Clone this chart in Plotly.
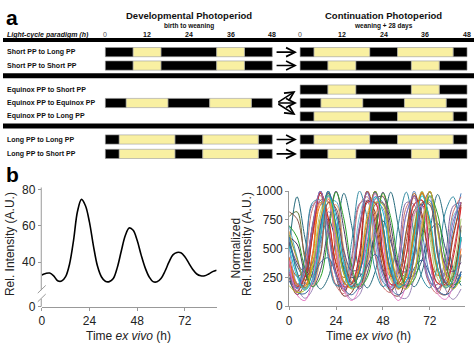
import plotly.graph_objects as go

W, H = 474, 351
FONT = "Liberation Sans, Arial, sans-serif"

# ---------------- Panel a data ----------------
row_labels = ["Short PP to Long PP", "Short PP to Short PP", "Equinox PP to Short PP",
              "Equinox PP to Equinox PP", "Equinox PP to Long PP",
              "Long PP to Long PP", "Long PP to Short PP"]
# alternating segment durations (h) starting with dark: dark, light, dark, light, dark
short_pp_hours = [8, 8, 16, 8, 8]
equinox_pp_hours = [6, 12, 12, 12, 6]
long_pp_hours = [4, 16, 8, 16, 4]
dev_paradigm = ["short", "short", None, "equinox", None, "long", "long"]
cont_paradigm = ["long", "short", "short", "equinox", "long", "long", "short"]
hour_ticks = [0, 12, 24, 36, 48]

# ---------------- Panel b data ----------------
t_single = [0, 2, 4, 6, 8, 10, 12, 14, 16, 18, 20, 22, 24, 26, 28, 30, 32, 34, 36, 38, 40, 42,
            44, 46, 48, 50, 52, 54, 56, 58, 60, 62, 64, 66, 68, 70, 72, 74, 76, 78, 80, 82, 84, 86, 88]
single_intensity = [33, 33.8, 34, 32.5, 29.8, 29.6, 32, 39, 52, 68, 74.5, 71, 62, 49, 38, 32, 29.5,
                    29.3, 31, 37, 46, 54.5, 58.8, 57.5, 52, 44, 37, 32, 29.3, 29.2, 31, 35, 40, 44,
                    45.3, 45.2, 43, 39.5, 36, 33.5, 32.5, 32.5, 33.5, 34.8, 35.6]

t_norm = [0, 4, 8, 12, 16, 20, 24, 28, 32, 36, 40, 44, 48, 52, 56, 60, 64, 68, 72, 76, 80, 84, 88]
tr01 = [320,150,310,690,1000,670,290,150,300,680,1000,660,300,140,290,660,1000,650,280,150,300,680,980]
tr02 = [430,190,210,460,920,910,440,200,190,440,910,900,460,190,200,450,890,920,430,200,210,470,880]
tr03 = [650,290,150,290,680,1000,690,310,160,300,670,1000,680,290,170,310,690,1000,660,300,170,300,660]
tr04 = [220,180,430,880,900,460,190,180,430,890,910,440,210,170,440,900,880,470,200,190,430,870,900]
tr05 = [700,430,200,190,440,900,910,460,210,190,450,900,890,440,200,180,430,880,900,450,210,200,440]
tr06 = [400,200,180,450,900,900,450,200,160,300,680,1000,680,300,160,200,450,900,900,450,200,180,300]
tr07 = [550,350,260,330,560,760,560,340,250,260,380,620,740,560,330,250,270,400,650,720,500,300,260]
tr08 = [250,100,200,620,1000,650,260,90,120,380,920,820,400,120,90,300,830,880,420,130,100,250,700]
tr09 = [780,820,420,250,620,980,700,320,200,300,680,1000,700,320,190,280,650,980,720,330,200,270,600]
tr10 = [600,540,290,170,310,690,1000,670,300,150,290,660,990,700,320,170,280,640,1000,700,310,160,300]
tr11 = [500,950,600,280,150,250,600,980,700,300,160,300,650,990,680,300,170,300,650,970,700,320,180]
tr12 = [400,260,320,700,980,760,380,250,300,680,1000,780,400,260,290,650,980,760,420,270,300,620,900]
tr13 = [350,200,150,220,520,820,720,380,180,200,500,950,900,450,200,190,420,880,880,460,220,180,300]
tr14 = [300,120,350,850,960,500,180,110,380,880,950,480,170,120,360,860,940,520,190,110,330,820,950]
tr15 = [380,180,170,380,820,970,560,220,160,350,800,980,580,230,150,340,780,990,600,240,160,330,760]
tr16 = [500,180,70,150,600,1000,600,180,60,100,380,900,850,380,90,70,250,750,950,500,150,60,150]
tr17 = [330,160,280,720,1000,640,260,150,320,780,980,560,220,140,350,800,960,540,220,150,330,780,880]
tr18 = [650,400,220,180,420,850,880,500,230,170,350,780,960,620,260,160,300,720,1000,700,300,170,260]
tr19 = [220,120,110,200,380,420,280,150,100,180,350,450,300,150,100,160,330,400,280,140,100,150,300]
tr20 = [280,130,260,700,980,690,300,130,280,650,990,720,330,140,230,560,960,800,380,150,240,600,900]
tr21 = [620,420,230,330,760,990,650,280,170,300,700,1000,700,300,180,280,640,980,740,330,180,260,580]
tr22 = [560,380,300,380,700,980,820,480,310,330,560,930,950,600,330,300,470,860,990,680,360,300,380]
tr23 = [250,160,420,900,920,420,180,200,560,1000,760,320,170,280,720,990,620,250,160,360,820,950,560]
tr24 = [420,190,170,430,880,930,480,210,160,330,760,990,640,260,150,260,620,990,730,320,160,220,500]
tr25 = [600,300,160,290,690,1000,690,300,170,290,660,990,690,300,160,220,480,880,920,470,200,160,280]
tr26 = [370,170,250,620,990,770,360,170,200,460,900,900,450,190,200,440,880,920,470,200,190,420,860]
tr27 = [700,600,330,170,250,620,990,760,350,170,250,600,980,770,380,180,230,560,960,800,400,190,220]
tr28 = [300,150,320,700,1000,660,280,150,310,700,990,650,260,160,360,800,960,520,220,150,330,740,900]
tr29 = [820,760,450,260,450,900,850,420,200,170,420,880,900,460,210,180,430,900,880,440,200,190,450]
tr30 = [400,100,50,240,750,950,500,140,50,160,640,980,560,150,50,200,800,870,400,110,60,180,560]
tr31 = [180,120,140,350,760,960,640,280,150,200,480,900,880,480,210,150,300,680,1000,650,280,150,250]
tr32 = [520,260,140,240,600,960,780,360,160,200,520,950,820,380,170,220,560,960,760,340,160,230,600]
norm_traces = [tr01, tr02, tr03, tr04, tr05, tr06, tr07, tr08, tr09, tr10, tr11, tr12, tr13, tr14, tr15, tr16,
               tr17, tr18, tr19, tr20, tr21, tr22, tr23, tr24, tr25, tr26, tr27, tr28, tr29, tr30, tr31, tr32]

# ---------------- layout helpers ----------------
def px(x):
    return x / W

def py(y):
    return 1 - y / H

PX_PER_H = 3.5
DEV_X0 = 103            # pixel where developmental 0 h sits
CONT_OFFSET = 56        # continuation block offset (h) on the shared hour axis
row_y = [47, 61, 86, 100, 114, 138, 153]
patterns = {"short": short_pp_hours, "equinox": equinox_pp_hours, "long": long_pp_hours}

DARK = "#000000"
LIGHT = "#f9f0a2"

fig = go.Figure()

dark_y, dark_b, dark_x = [], [], []
light_y, light_b, light_x = [], [], []
for i, yy in enumerate(row_y):
    for name, off in ((dev_paradigm[i], 0), (cont_paradigm[i], CONT_OFFSET)):
        if name is None:
            continue
        s = 0
        for k, d in enumerate(patterns[name]):
            if k % 2 == 0:
                dark_y.append(yy); dark_b.append(off + s); dark_x.append(d)
            else:
                light_y.append(yy); light_b.append(off + s); light_x.append(d)
            s += d

for ys, bs, xs, col in ((dark_y, dark_b, dark_x, DARK), (light_y, light_b, light_x, LIGHT)):
    fig.add_trace(go.Bar(orientation="h", y=ys, base=bs, x=xs, width=[9.6] * len(ys),
                         marker=dict(color=col, line=dict(color="#9a9a9a", width=0.6)),
                         xaxis="x", yaxis="y", showlegend=False, hoverinfo="skip"))

# left panel b
fig.add_trace(go.Scatter(x=t_single, y=single_intensity, mode="lines", line=dict(color="black", width=1.6, shape="spline"),
                         xaxis="x2", yaxis="y2", showlegend=False, hoverinfo="skip"))

palette = ['#4f81bd', '#c0504d', '#9bbb59', '#8064a2', '#4bacc6', '#f79646', '#2c4d75', '#772c2a',
           '#5f7530', '#4d3b62', '#276a7c', '#b65708', '#729aca', '#cd7371', '#afc97a', '#9983b5',
           '#6fbdd1', '#f9ab6b', '#3a6699', '#9c3b38', '#7d9a3f', '#664e82', '#358ca3', '#ee7609',
           '#1f77b4', '#d62728', '#2ca02c', '#9467bd', '#8c564b', '#e377c2', '#bcbd22', '#17becf']
for i, tr in enumerate(norm_traces):
    fig.add_trace(go.Scatter(x=t_norm, y=tr, mode="lines",
                             line=dict(color=palette[i % len(palette)], width=1, shape="spline", smoothing=1.0),
                             xaxis="x3", yaxis="y3", showlegend=False, hoverinfo="skip"))

axis_common = dict(showgrid=False, zeroline=False, ticks="outside", ticklen=3, tickcolor="#999",
                   linecolor="#999", linewidth=1, tickfont=dict(size=12, color="#222", family=FONT))

fig.update_layout(
    width=W, height=H, margin=dict(l=0, r=0, t=0, b=0),
    paper_bgcolor="white", plot_bgcolor="rgba(0,0,0,0)",
    barmode="overlay", showlegend=False, font=dict(family=FONT, color="#222"),
    xaxis=dict(domain=[0, 1], range=[-DEV_X0 / PX_PER_H, (W - DEV_X0) / PX_PER_H], visible=False, anchor="y"),
    yaxis=dict(domain=[0, 1], range=[H, 0], visible=False, anchor="x"),
    xaxis2=dict(domain=[px(39), px(215)], range=[0, 88], anchor="y2", showline=True,
                tickvals=[0, 24, 48, 72], **axis_common),
    yaxis2=dict(domain=[py(312), py(188)], range=[15.6, 81.05], anchor="x2", showline=False,
                tickvals=[15.6, 40, 60, 80], ticktext=["0", "40", "60", "80"], **axis_common),
    xaxis3=dict(domain=[px(288), px(464.7)], range=[0, 89.9], anchor="y3", showline=True,
                tickvals=[0, 24, 48, 72], **axis_common),
    yaxis3=dict(domain=[py(311.7), py(191.7)], range=[0, 1000], anchor="x3", showline=True,
                tickvals=[0, 250, 500, 750, 1000], **axis_common),
)

shapes = []
# separators in panel a
for yy, w in ((34.5, 4), (71.5, 5), (124, 5)):
    shapes.append(dict(type="line", xref="paper", yref="y", x0=0, x1=1, y0=yy, y1=yy,
                       line=dict(color="black", width=w)))
# broken y axis on left panel b
ax_x = px(38.5)
shapes.append(dict(type="line", xref="paper", yref="paper", x0=ax_x, x1=ax_x, y0=py(188), y1=py(295),
                   line=dict(color="#999", width=1)))
shapes.append(dict(type="line", xref="paper", yref="paper", x0=ax_x, x1=ax_x, y0=py(304), y1=py(312),
                   line=dict(color="#999", width=1)))
for y0, y1 in ((298, 290), (307, 299)):
    shapes.append(dict(type="line", xref="paper", yref="paper", x0=px(35), x1=px(43), y0=py(y0), y1=py(y1),
                       line=dict(color="#999", width=1)))
fig.update_layout(shapes=shapes)

ann = []
def text(x, y, s, size, xanchor="center", angle=0, color="#111"):
    ann.append(dict(x=px(x), y=py(y), xref="paper", yref="paper", text=s, showarrow=False,
                    xanchor=xanchor, yanchor="middle", textangle=angle,
                    font=dict(size=size, color=color, family=FONT)))

text(1, 11, "<b>a</b>", 21, "left", color="black")
text(1, 174, "<b>b</b>", 21, "left", color="black")
text(187, 9, "<b>Developmental Photoperiod</b>", 9.5)
text(383, 9, "<b>Continuation Photoperiod</b>", 9.5)
text(187, 19.5, "<b>birth to weaning</b>", 6.5)
text(383, 19.5, "<b>weaning + 28 days</b>", 6.5)
text(2, 29, "<b><i>Light-cycle paradigm (h)</i></b>", 7, "left")
for off in (0, CONT_OFFSET):
    for h in hour_ticks:
        lab = str(h) if h == 0 else "<b>%d</b>" % h
        ann.append(dict(x=off + h, y=29, xref="x", yref="y", text=lab, showarrow=False,
                        xanchor="center", yanchor="middle",
                        font=dict(size=7, color="#555" if h == 0 else "#111", family=FONT)))
for lab, yy in zip(row_labels, row_y):
    ann.append(dict(x=px(2), y=yy, xref="paper", yref="y", text="<b>%s</b>" % lab, showarrow=False,
                    xanchor="left", yanchor="middle", font=dict(size=7, color="#111", family=FONT)))

# arrows from developmental to continuation bars
tail_h = 48 + 0.8
head_h = CONT_OFFSET - 0.9
for i, yy in enumerate(row_y):
    if dev_paradigm[i] is not None and not dev_paradigm[i] == "equinox":
        ann.append(dict(x=head_h, y=yy, ax=tail_h, ay=yy, xref="x", yref="y", axref="x", ayref="y",
                        text="", showarrow=True, arrowhead=5, arrowsize=1.1, arrowwidth=1.6,
                        arrowcolor="black", standoff=0, startstandoff=0))
eq_src = row_y[3]
for yy, dy in ((row_y[2], 1), (row_y[3], 0), (row_y[4], -1)):
    ann.append(dict(x=head_h - 0.4 * abs(dy), y=yy + dy * 1.5, ax=tail_h + 0.5, ay=eq_src,
                    xref="x", yref="y", axref="x", ayref="y",
                    text="", showarrow=True, arrowhead=5, arrowsize=1.1, arrowwidth=1.6,
                    arrowcolor="black", standoff=0, startstandoff=0))

# panel b axis titles
text(7, 247, "Rel. Intensity (A.U.)", 12, angle=-90, color="#222")
text(126.5, 343, "Time <i>ex vivo</i> (h)", 12, color="#222")
text(234, 251, "Normalized", 12, angle=-90, color="#222")
text(245.5, 247, "Rel. Intensity (A.U.)", 12, angle=-90, color="#222")
text(368, 343, "Time <i>ex vivo</i> (h)", 12, color="#222")

fig.update_layout(annotations=ann)
fig.write_html("out.html")
